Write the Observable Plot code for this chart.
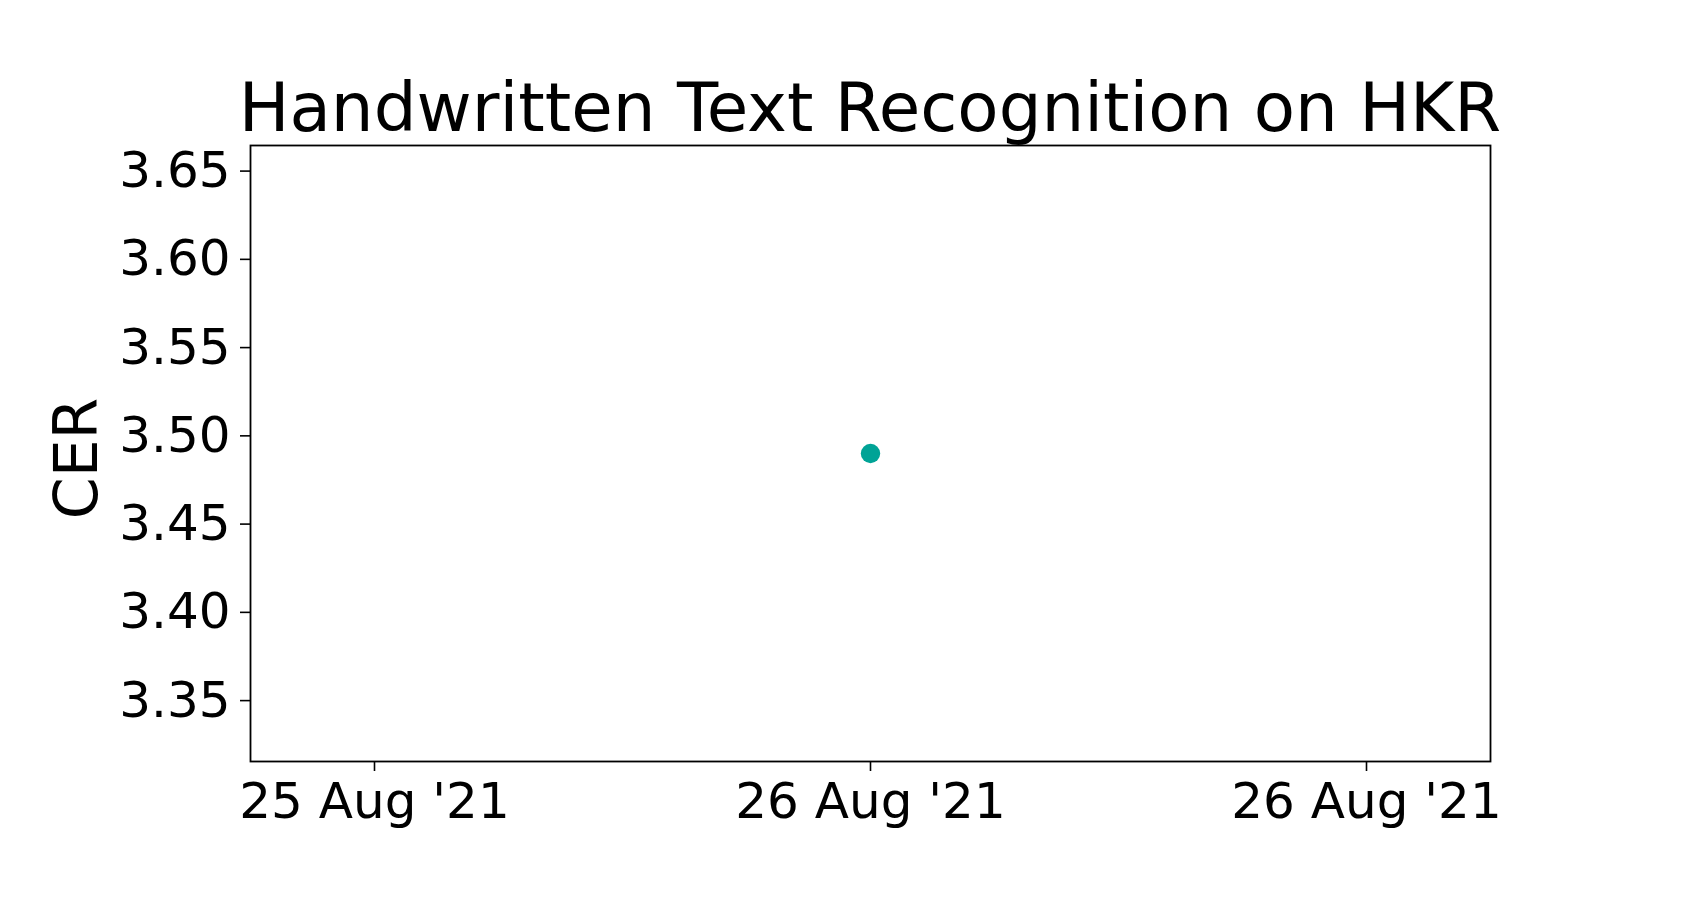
<!DOCTYPE html>
<html>
<head>
<meta charset="utf-8">
<script src="https://cdn.jsdelivr.net/npm/d3@7"></script>
<script src="https://cdn.jsdelivr.net/npm/@observablehq/plot@0.6"></script>
<style>
  html, body { margin: 0; padding: 0; background: #fff; }
  #wrap { width: 1700px; height: 900px; position: relative; font-family: "DejaVu Sans", sans-serif; }
  #title { position: absolute; left: 120px; width: 1500px; top: 74px; height: 67px; line-height: 67px;
           font-size: 67.5px; text-align: center; color: #000; white-space: nowrap; }
  #chart { position: absolute; left: 0; top: 145px; }
</style>
</head>
<body>
<div id="wrap">
  <div id="title">Handwritten Text Recognition on HKR</div>
  <div id="chart"></div>
</div>
<script>
// Data
const dates = ["2021-08-26T00:00:00Z"];
const cer = [3.49];
const models = ["HKR model"];
const yTicks = [3.35, 3.40, 3.45, 3.50, 3.55, 3.60, 3.65];
const xTicks = ["2021-08-25T12:00:00Z", "2021-08-26T00:00:00Z", "2021-08-26T12:00:00Z"];
const xDomain = ["2021-08-25T09:00:00Z", "2021-08-26T15:00:00Z"];
const yDomain = [3.3155, 3.6645];
const yLabel = "CER";

const data = dates.map((d, i) => ({date: new Date(d), cer: cer[i], model: models[i]}));
const fmt = d3.utcFormat("%d %b '%y");

const chart = Plot.plot({
  width: 1700,
  height: 755,
  marginLeft: 250,
  marginRight: 210,
  marginTop: 0,
  marginBottom: 139,
  style: {fontFamily: "DejaVu Sans, sans-serif", background: "#fff", color: "#000", overflow: "visible"},
  x: {type: "utc", domain: xDomain.map(d => new Date(d))},
  y: {domain: yDomain},
  marks: [
    Plot.axisX({ticks: xTicks.map(d => new Date(d)), tickFormat: fmt, tickSize: 10, tickPadding: 11,
                fontSize: 50, label: null, strokeWidth: 1.6}),
    Plot.axisY({ticks: yTicks, tickFormat: d3.format(".2f"), tickSize: 10, tickPadding: 10,
                fontSize: 50, label: null, strokeWidth: 1.6}),
    Plot.frame({stroke: "#000", strokeWidth: 1.8}),
    Plot.dot(data, {x: "date", y: "cer", r: 9.7, fill: "#00a396", stroke: null}),
    Plot.text([yLabel], {text: d => d, frameAnchor: "left", rotate: -90, dx: -172.5, dy: 5, fontSize: 60,
                         textAnchor: "middle", lineAnchor: "middle", fill: "#000"})
  ]
});
document.getElementById("chart").appendChild(chart);
</script>
</body>
</html>
